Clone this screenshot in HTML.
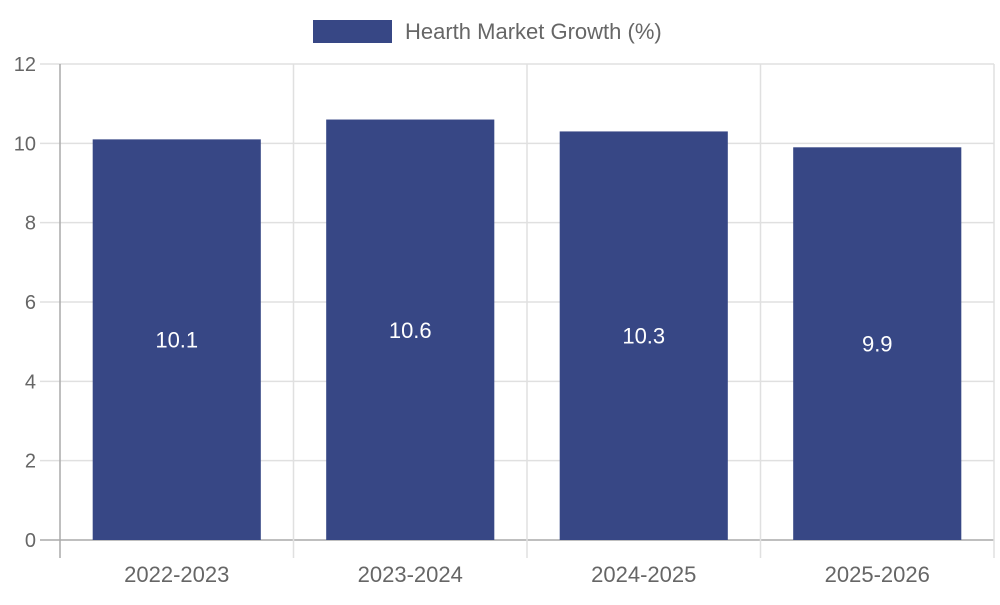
<!DOCTYPE html>
<html><head><meta charset="utf-8"><style>
body{margin:0;background:#fff;font-family:"Liberation Sans",sans-serif}
svg text{font-family:"Liberation Sans",sans-serif}
</style></head><body>
<svg id="chart" width="1000" height="600" xmlns="http://www.w3.org/2000/svg">
<g>
<rect x="313" y="20" width="79" height="23" fill="#374785"/>
<text x="405" y="39" font-size="22" fill="#666">Hearth Market Growth (%)</text>
</g>
<g id="grid"></g><g id="bars"></g><g id="labels"></g>
</svg>
<script>
const categories = ["2022-2023","2023-2024","2024-2025","2025-2026"];
const values = [10.1, 10.6, 10.3, 9.9];
const yTicks = [0,2,4,6,8,10,12];
const X0=60, X1=994, Y0=540, Y1=64, YMAX=12;
const ns="http://www.w3.org/2000/svg";
function y(v){return Y0-(v/YMAX)*(Y0-Y1);}
const band=(X1-X0)/categories.length;
function xc(i){return X0+band*(i+0.5);}
function mk(tag,attrs,parent,text){const e=document.createElementNS(ns,tag);for(const k in attrs)e.setAttribute(k,attrs[k]);if(text!==undefined)e.textContent=text;parent.appendChild(e);return e;}
const grid=document.getElementById('grid'),bars=document.getElementById('bars'),labels=document.getElementById('labels');
yTicks.forEach(t=>{
  const l=mk('line',{x1:40,x2:X1,y1:y(t),y2:y(t),stroke:t===0?'#aaa':'#e0e0e0','stroke-width':1.5},grid);
  
  
  const tx=mk('text',{x:36,y:y(t)+7,'text-anchor':'end','font-size':20,fill:'#666'},grid,String(t));
  
  
});
for(let i=0;i<=categories.length;i++){
  const x=X0+band*i;
  const l=mk('line',{x1:x,x2:x,y1:Y1,y2:558,stroke:i===0?'#aaa':'#e0e0e0','stroke-width':1.5},grid);
  
  
}
categories.forEach((c,i)=>{
  const w=band*0.72;
  const r=mk('rect',{x:xc(i)-w/2,y:y(values[i]),width:w,height:Y0-y(values[i]),fill:'#374785'},bars);
  
  
  const v=mk('text',{x:xc(i),y:(y(values[i])+Y0)/2+8,'text-anchor':'middle','font-size':22,fill:'#fff'},labels,String(values[i]));
  
  
  const t=mk('text',{x:xc(i),y:582,'text-anchor':'middle','font-size':22,fill:'#666'},labels,c);
  
  
});
</script>
</body></html>
